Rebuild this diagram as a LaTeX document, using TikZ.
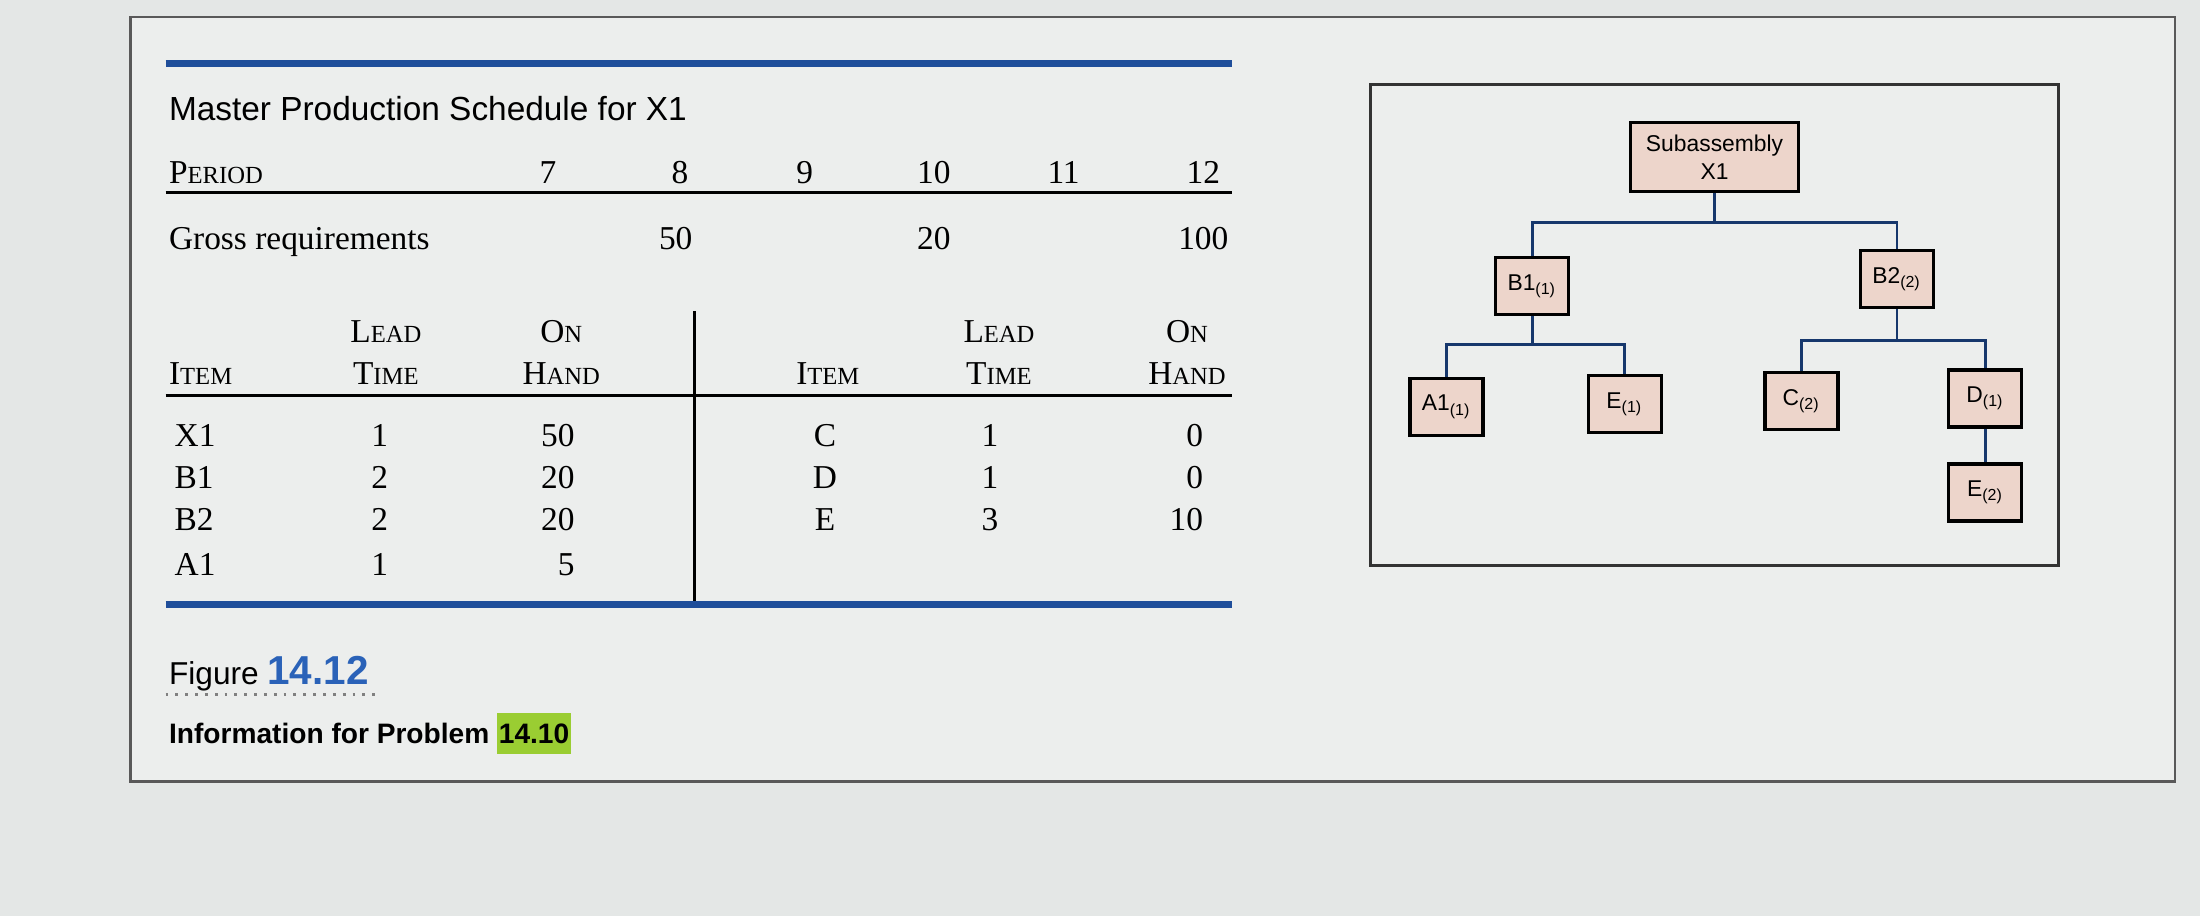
\documentclass[tikz,border=0pt]{standalone}
\usepackage{fontspec}
\setmainfont{Liberation Serif}
\setsansfont{Liberation Sans}
\definecolor{bg}{HTML}{E4E7E6}
\definecolor{panel}{HTML}{ECEEED}
\definecolor{rule}{HTML}{1F4E9A}
\definecolor{boxfill}{HTML}{EDD5CB}
\definecolor{figblue}{HTML}{2A62B8}
\definecolor{hl}{HTML}{9ACD32}
\newcommand{\fsc}[2]{#1{\fontsize{7}{8}\selectfont #2}}
\tikzset{
  tb/.style={font=\fontsize{9.5}{11}\selectfont, inner sep=0pt},
  tr/.style={tb, anchor=base east},
  tl/.style={tb, anchor=base west},
  tc/.style={tb, anchor=base},
  part/.style={draw=black, line width=0.9pt, fill=boxfill, minimum width=7.3mm, minimum height=5.7mm, inner sep=0pt, font=\sffamily\fontsize{6.5}{7}\selectfont},
  link/.style={draw=rule!70!black, line width=0.8pt},
}
\begin{document}
\begin{tikzpicture}[x=0.14031mm,y=-0.14031mm]
\fill[bg] (0,0) rectangle (1568,653);
\useasboundingbox (0,0) rectangle (1568,653);
\fill[panel] (93,12) rectangle (1550,557);
\draw[gray!70!black, line width=0.6pt] (93,12) rectangle (1550,557);
% table
\draw[rule, line width=2pt] (118,45) -- (878,45);
\node[anchor=base west, inner sep=0pt, font=\sffamily\fontsize{9.5}{11}\selectfont] (title) at (120,86) {Master Production Schedule for X1};
\node[tl] (period) at (120,131) {\fsc{P}{ERIOD}};
\foreach \t/\x in {7/397,8/491,9/580,10/678,11/770,12/870} \node[tr] (p\t) at (\x,131) {\t};
\draw[black, line width=0.8pt] (118,137) -- (878,137);
\node[tl] (gross) at (120,178) {Gross requirements};
\node[tr] (g8) at (494,178) {50};
\node[tr] (g10) at (678,178) {20};
\node[tr] (g12) at (876,178) {100};
\node[tc] (l1) at (275,244) {\fsc{L}{EAD}};
\node[tc] (t1) at (275,274) {\fsc{T}{IME}};
\node[tc] (o1) at (400,244) {\fsc{O}{N}};
\node[tc] (h1) at (400,274) {\fsc{H}{AND}};
\node[tl] (i1) at (120,274) {\fsc{I}{TEM}};
\node[tc] (i2) at (590,274) {\fsc{I}{TEM}};
\node[tc] (l2) at (712,244) {\fsc{L}{EAD}};
\node[tc] (t2) at (712,274) {\fsc{T}{IME}};
\node[tc] (o2) at (846,244) {\fsc{O}{N}};
\node[tc] (h2) at (846,274) {\fsc{H}{AND}};
\draw[black, line width=0.8pt] (118,282) -- (878,282);
\draw[black, line width=0.8pt] (495,222) -- (495,431);
\foreach \n/\a/\b/\c/\y in {r1/X1/1/50/318,r2/B1/2/20/348,r3/B2/2/20/378,r4/A1/1/5/410}{
  \node[tl] (\n a) at (124,\y) {\a};
  \node[tr] (\n b) at (277,\y) {\b};
  \node[tr] (\n c) at (410,\y) {\c};
}
\foreach \n/\a/\b/\c/\y in {s1/C/1/0/318,s2/D/1/0/348,s3/E/3/10/378}{
  \node[tc] (\n a) at (588,\y) {\a};
  \node[tr] (\n b) at (712,\y) {\b};
  \node[tr] (\n c) at (858,\y) {\c};
}
\draw[rule, line width=2pt] (118,431) -- (878,431);
\node[anchor=base west, inner sep=0pt, font=\sffamily\fontsize{9}{11}\selectfont] (fig) at (120,488) {Figure \textcolor{figblue}{\bfseries\fontsize{11.5}{13}\selectfont 14.12}};
\draw[gray, dotted, line width=0.8pt] (118,495) -- (272,495);
\node[anchor=base west, inner sep=0pt, font=\sffamily\bfseries\fontsize{8}{10}\selectfont] (info) at (120,530) {Information for Problem \colorbox{hl}{\kern-2.5pt 14.10\kern-2.5pt}};
% tree
\draw[black!80, line width=0.8pt] (977,60) rectangle (1467,403);
\node[part, minimum width=16.8mm, minimum height=6.9mm, align=center] (sub) at (1222,112) {Subassembly\\[1pt]X1};
\node[part] (b1) at (1092,204) {B1\textsubscript{(1)}};
\node[part] (b2) at (1352,199) {B2\textsubscript{(2)}};
\node[part] (a1) at (1031,290) {A1\textsubscript{(1)}};
\node[part] (e1) at (1158,288) {E\textsubscript{(1)}};
\node[part] (c2) at (1284,286) {C\textsubscript{(2)}};
\node[part] (d1) at (1415,284) {D\textsubscript{(1)}};
\node[part] (e2) at (1415,351) {E\textsubscript{(2)}};
\draw[link] (sub.south) -- ++(0,21) -| (b1.north);
\draw[link] (sub.south) -- ++(0,21) -| (b2.north);
\draw[link] (b1.south) -- ++(0,20) -| (a1.north);
\draw[link] (b1.south) -- ++(0,20) -| (e1.north);
\draw[link] (b2.south) -- ++(0,22) -| (c2.north);
\draw[link] (b2.south) -- ++(0,22) -| (d1.north);
\draw[link] (d1.south) -- (e2.north);
\end{tikzpicture}
\end{document}
